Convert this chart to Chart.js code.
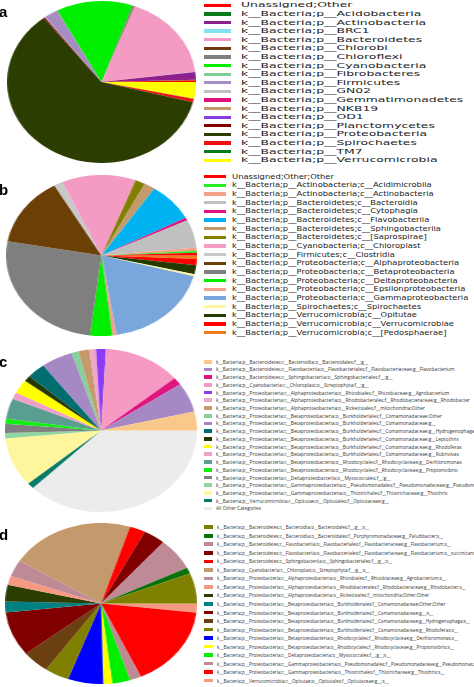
<!DOCTYPE html>
<html>
<head>
<meta charset="utf-8">
<script src="https://cdn.jsdelivr.net/npm/chart.js@4.4.1/dist/chart.umd.min.js"></script>
<style>
  body { margin: 0; background: #fff; }
  #page { position: relative; width: 474px; height: 687px; overflow: hidden; background: #fff; }
  .pie { position: absolute; transform-origin: 0 0; }
  .swatch { position: absolute; }
  .label { position: absolute; font-size: 10px; line-height: 10px; white-space: nowrap; transform-origin: 0 50%; color: #222; }
  .tag { position: absolute; font-family: "Liberation Sans", Arial, sans-serif; font-weight: bold; font-size: 15px; line-height: 15px; color: #000; }
</style>
</head>
<body>
<div id="page"></div>
<script>
// panel a: phylum level
var phylumLabels = [
  "Unassigned;Other",
  "k__Bacteria;p__Acidobacteria",
  "k__Bacteria;p__Actinobacteria",
  "k__Bacteria;p__BRC1",
  "k__Bacteria;p__Bacteroidetes",
  "k__Bacteria;p__Chlorobi",
  "k__Bacteria;p__Chloroflexi",
  "k__Bacteria;p__Cyanobacteria",
  "k__Bacteria;p__Fibrobacteres",
  "k__Bacteria;p__Firmicutes",
  "k__Bacteria;p__GN02",
  "k__Bacteria;p__Gemmatimonadetes",
  "k__Bacteria;p__NKB19",
  "k__Bacteria;p__OD1",
  "k__Bacteria;p__Planctomycetes",
  "k__Bacteria;p__Proteobacteria",
  "k__Bacteria;p__Spirochaetes",
  "k__Bacteria;p__TM7",
  "k__Bacteria;p__Verrucomicrobia"
];
var phylumValues = [0.35, 0.1, 1.5, 0.05, 17.3, 0.1, 0.3, 13.1, 0.05, 2.3, 0.05, 0.05, 0.05, 0.05, 0.2, 60.6, 0.7, 0.05, 3.3];
var phylumColors = ["#ff0000", "#0b7a1b", "#8e1f8c", "#80e3ee", "#f39bc2", "#6b3a0e", "#808080", "#00ee00",
  "#7fcc99", "#a58dc2", "#c0c0c0", "#e0117f", "#c49a6c", "#8b3ce0", "#800000", "#2b3d00", "#ee1111", "#0b7a1b", "#ffff00"];

// panel b: class level
var classLabels = [
  "Unassigned;Other;Other",
  "k__Bacteria;p__Actinobacteria;c__Acidimicrobiia",
  "k__Bacteria;p__Actinobacteria;c__Actinobacteria",
  "k__Bacteria;p__Bacteroidetes;c__Bacteroidia",
  "k__Bacteria;p__Bacteroidetes;c__Cytophagia",
  "k__Bacteria;p__Bacteroidetes;c__Flavobacteriia",
  "k__Bacteria;p__Bacteroidetes;c__Sphingobacteriia",
  "k__Bacteria;p__Bacteroidetes;c__[Saprospirae]",
  "k__Bacteria;p__Cyanobacteria;c__Chloroplast",
  "k__Bacteria;p__Firmicutes;c__Clostridia",
  "k__Bacteria;p__Proteobacteria;c__Alphaproteobacteria",
  "k__Bacteria;p__Proteobacteria;c__Betaproteobacteria",
  "k__Bacteria;p__Proteobacteria;c__Deltaproteobacteria",
  "k__Bacteria;p__Proteobacteria;c__Epsilonproteobacteria",
  "k__Bacteria;p__Proteobacteria;c__Gammaproteobacteria",
  "k__Bacteria;p__Spirochaetes;c__Spirochaetes",
  "k__Bacteria;p__Verrucomicrobia;c__Opitutae",
  "k__Bacteria;p__Verrucomicrobia;c__Verrucomicrobiae",
  "k__Bacteria;p__Verrucomicrobia;c__[Pedosphaerae]"
];
var classValues = [0.56, 0.36, 0.67, 5.64, 0.56, 7.89, 1.83, 1.67, 12.56, 1.47, 13.94, 25.92, 3.75, 0.69, 18.33, 0.42, 1.81, 1.25, 0.69];
var classColors = ["#ff0000", "#22ee22", "#f4a08a", "#c0c0c0", "#e0117f", "#00b3f0", "#c49a6c", "#808000", "#f39bc2",
  "#c8c8c8", "#6b3f05", "#7f7f7f", "#00ee00", "#f4a08a", "#7aa7db", "#fff7a0", "#233a00", "#ff0000", "#f07a1a"];

// panel c: genus level
var genusLabels = [
  "k__Bacteria;p__Bacteroidetes;c__Bacteroidia;o__Bacteroidales;f__;g__",
  "k__Bacteria;p__Bacteroidetes;c__Flavobacteriia;o__Flavobacteriales;f__Flavobacteriaceae;g__Flavobacterium",
  "k__Bacteria;p__Bacteroidetes;c__Sphingobacteriia;o__Sphingobacteriales;f__;g__",
  "k__Bacteria;p__Cyanobacteria;c__Chloroplast;o__Streptophyta;f__;g__",
  "k__Bacteria;p__Proteobacteria;c__Alphaproteobacteria;o__Rhizobiales;f__Rhizobiaceae;g__Agrobacterium",
  "k__Bacteria;p__Proteobacteria;c__Alphaproteobacteria;o__Rhodobacterales;f__Rhodobacteraceae;g__Rhodobacter",
  "k__Bacteria;p__Proteobacteria;c__Alphaproteobacteria;o__Rickettsiales;f__mitochondria;Other",
  "k__Bacteria;p__Proteobacteria;c__Betaproteobacteria;o__Burkholderiales;f__Comamonadaceae;Other",
  "k__Bacteria;p__Proteobacteria;c__Betaproteobacteria;o__Burkholderiales;f__Comamonadaceae;g__",
  "k__Bacteria;p__Proteobacteria;c__Betaproteobacteria;o__Burkholderiales;f__Comamonadaceae;g__Hydrogenophaga",
  "k__Bacteria;p__Proteobacteria;c__Betaproteobacteria;o__Burkholderiales;f__Comamonadaceae;g__Leptothrix",
  "k__Bacteria;p__Proteobacteria;c__Betaproteobacteria;o__Burkholderiales;f__Comamonadaceae;g__Rhodoferax",
  "k__Bacteria;p__Proteobacteria;c__Betaproteobacteria;o__Burkholderiales;f__Comamonadaceae;g__Rubrivivax",
  "k__Bacteria;p__Proteobacteria;c__Betaproteobacteria;o__Rhodocyclales;f__Rhodocyclaceae;g__Dechloromonas",
  "k__Bacteria;p__Proteobacteria;c__Betaproteobacteria;o__Rhodocyclales;f__Rhodocyclaceae;g__Propionivibrio",
  "k__Bacteria;p__Proteobacteria;c__Deltaproteobacteria;o__Myxococcales;f__;g__",
  "k__Bacteria;p__Proteobacteria;c__Gammaproteobacteria;o__Pseudomonadales;f__Pseudomonadaceae;g__Pseudomonas",
  "k__Bacteria;p__Proteobacteria;c__Gammaproteobacteria;o__Thiotrichales;f__Thiotrichaceae;g__Thiothrix",
  "k__Bacteria;p__Verrucomicrobia;c__Opitutae;o__Opitutales;f__Opitutaceae;g__",
  "All Other Categories"
];
var genusValues = [3.75, 5.83, 1.53, 13.06, 1.67, 1.11, 1.83, 1.17, 5.33, 3.14, 1.14, 2.75, 1.31, 4.03, 1.06, 1.78, 1.08, 9.72, 1.17, 37.56];
var genusColors = ["#f9c98a", "#a688c4", "#e0147e", "#f59ac3", "#8c3cf5", "#f2a6ca", "#c49a6c", "#85d09c", "#a688c4", "#006e6e",
  "#233800", "#ffff00", "#f0a0c8", "#5a9e90", "#10f010", "#808080", "#8fd6a0", "#fff59d", "#0a7a6a", "#ececec"];

// panel d: species level
var speciesLabels = [
  "k__Bacteria;p__Bacteroidetes;c__Bacteroidia;o__Bacteroidales;f__;g__;s__",
  "k__Bacteria;p__Bacteroidetes;c__Bacteroidia;o__Bacteroidales;f__Porphyromonadaceae;g__Paludibacter;s__",
  "k__Bacteria;p__Bacteroidetes;c__Flavobacteriia;o__Flavobacteriales;f__Flavobacteriaceae;g__Flavobacterium;s__",
  "k__Bacteria;p__Bacteroidetes;c__Flavobacteriia;o__Flavobacteriales;f__Flavobacteriaceae;g__Flavobacterium;s__succinicans",
  "k__Bacteria;p__Bacteroidetes;c__Sphingobacteriia;o__Sphingobacteriales;f__;g__;s__",
  "k__Bacteria;p__Cyanobacteria;c__Chloroplast;o__Streptophyta;f__;g__;s__",
  "k__Bacteria;p__Proteobacteria;c__Alphaproteobacteria;o__Rhizobiales;f__Rhizobiaceae;g__Agrobacterium;s__",
  "k__Bacteria;p__Proteobacteria;c__Alphaproteobacteria;o__Rhodobacterales;f__Rhodobacteraceae;g__Rhodobacter;s__",
  "k__Bacteria;p__Proteobacteria;c__Alphaproteobacteria;o__Rickettsiales;f__mitochondria;Other;Other",
  "k__Bacteria;p__Proteobacteria;c__Betaproteobacteria;o__Burkholderiales;f__Comamonadaceae;Other;Other",
  "k__Bacteria;p__Proteobacteria;c__Betaproteobacteria;o__Burkholderiales;f__Comamonadaceae;g__;s__",
  "k__Bacteria;p__Proteobacteria;c__Betaproteobacteria;o__Burkholderiales;f__Comamonadaceae;g__Hydrogenophaga;s__",
  "k__Bacteria;p__Proteobacteria;c__Betaproteobacteria;o__Burkholderiales;f__Comamonadaceae;g__Rhodoferax;s__",
  "k__Bacteria;p__Proteobacteria;c__Betaproteobacteria;o__Rhodocyclales;f__Rhodocyclaceae;g__Dechloromonas;s__",
  "k__Bacteria;p__Proteobacteria;c__Betaproteobacteria;o__Rhodocyclales;f__Rhodocyclaceae;g__Propionivibrio;s__",
  "k__Bacteria;p__Proteobacteria;c__Deltaproteobacteria;o__Myxococcales;f__;g__;s__",
  "k__Bacteria;p__Proteobacteria;c__Gammaproteobacteria;o__Pseudomonadales;f__Pseudomonadaceae;g__Pseudomonas;s__",
  "k__Bacteria;p__Proteobacteria;c__Gammaproteobacteria;o__Thiotrichales;f__Thiotrichaceae;g__Thiothrix;s__",
  "k__Bacteria;p__Verrucomicrobia;c__Opitutae;o__Opitutales;f__Opitutaceae;g__;s__"
];
var speciesValues = [6.08, 1.25, 6.44, 3.69, 2.64, 21.0, 3.33, 1.81, 3.36, 2.17, 8.94, 4.58, 4.11, 5.97, 1.5, 3.03, 1.92, 16.36, 1.81];
var speciesColors = ["#808000", "#0a700a", "#bd8a96", "#800000", "#ff0000", "#c49a6c", "#bd8a96", "#f59a80", "#2b3d00", "#008080",
  "#800000", "#6b4010", "#808000", "#0000ff", "#ffff00", "#00ee00", "#bd8a96", "#ff0000", "#f59a80"];

var page = document.getElementById('page');

// pies start at 3 o'clock and run counter-clockwise, so feed them reversed
function drawPie(values, colors, box) {
  var wrap = document.createElement('div');
  wrap.className = 'pie';
  wrap.style.left = box.left + 'px';
  wrap.style.top = box.top + 'px';
  wrap.style.transform = 'scaleX(' + (box.w / box.h) + ')';
  var cv = document.createElement('canvas');
  cv.width = box.h;
  cv.height = box.h;
  wrap.appendChild(cv);
  page.appendChild(wrap);
  new Chart(cv.getContext('2d'), {
    type: 'pie',
    data: {
      datasets: [{
        data: values.slice().reverse(),
        backgroundColor: colors.slice().reverse(),
        borderWidth: 0
      }]
    },
    options: {
      responsive: false,
      animation: false,
      rotation: 90,
      layout: { padding: 0 },
      plugins: { legend: { display: false }, tooltip: { enabled: false } }
    }
  });
}

// legend text is stretched sideways like the source figure; fit it to a few measured line widths
function buildLegend(labels, colors, box) {
  var ctx = document.createElement('canvas').getContext('2d');
  ctx.font = '10px ' + box.font;
  var want = 0, got = 0;
  box.refs.forEach(function(r) {
    want += r[1];
    got += ctx.measureText(labels[r[0]]).width;
  });
  var sx = want / got;
  var sy = box.capHeight / (10 * box.capRatio);
  labels.forEach(function(text, i) {
    var y = box.firstRow + i * box.rowGap;
    var sw = document.createElement('div');
    sw.className = 'swatch';
    sw.style.left = box.swatchX + 'px';
    sw.style.top = (y - box.swatchH / 2) + 'px';
    sw.style.width = box.swatchW + 'px';
    sw.style.height = box.swatchH + 'px';
    sw.style.background = colors[i];
    page.appendChild(sw);
    var t = document.createElement('div');
    t.className = 'label';
    t.textContent = text;
    t.style.left = box.textX + 'px';
    t.style.top = (y - 5) + 'px';
    t.style.fontFamily = box.font;
    t.style.color = box.color;
    t.style.transform = 'scale(' + sx + ',' + sy + ')';
    page.appendChild(t);
  });
}

function tag(letter, left, top) {
  var d = document.createElement('div');
  d.className = 'tag';
  d.textContent = letter;
  d.style.left = left + 'px';
  d.style.top = top + 'px';
  page.appendChild(d);
}

drawPie(phylumValues, phylumColors, { left: 7, top: 1, w: 189, h: 162 });
drawPie(classValues, classColors, { left: 5.7, top: 175, w: 191, h: 161 });
drawPie(genusValues, genusColors, { left: 5, top: 349, w: 192, h: 163 });
drawPie(speciesValues, speciesColors, { left: 5, top: 523, w: 192, h: 161 });

buildLegend(phylumLabels, phylumColors, {
  font: '"DejaVu Sans"', capRatio: 0.729, capHeight: 5.3, color: '#222',
  refs: [[0, 104.3], [18, 203.6]],
  firstRow: 5.3, rowGap: 8.61, swatchX: 204, swatchW: 27, swatchH: 3.3, textX: 240.7
});
buildLegend(classLabels, classColors, {
  font: '"DejaVu Sans"', capRatio: 0.729, capHeight: 4.7, color: '#222',
  refs: [[14, 236.3]],
  firstRow: 176.7, rowGap: 8.67, swatchX: 204, swatchW: 22, swatchH: 3.3, textX: 231.7
});
buildLegend(genusLabels, genusColors, {
  font: '"Open Sans"', capRatio: 0.714, capHeight: 3.4, color: '#333',
  refs: [[0, 173], [3, 149], [4, 225.7], [5, 244]],
  firstRow: 361.7, rowGap: 7.72, swatchX: 204, swatchW: 8, swatchH: 3.7, textX: 216
});
buildLegend(speciesLabels, speciesColors, {
  font: '"Open Sans"', capRatio: 0.714, capHeight: 3.6, color: '#333',
  refs: [[0, 153.3], [2, 246], [6, 215.6]],
  firstRow: 527.3, rowGap: 8.52, swatchX: 204, swatchW: 9, swatchH: 3.7, textX: 216.7
});

tag('a', -1, 4.3);
tag('b', -1, 181.8);
tag('c', -1, 354.3);
tag('d', -1, 527.3);
</script>
</body>
</html>
